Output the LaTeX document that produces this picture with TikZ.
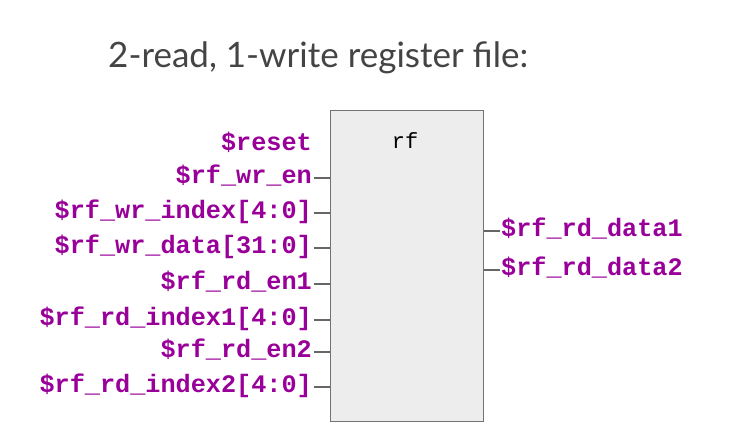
\documentclass[tikz,border=0pt]{standalone}
\usepackage{fontspec}
\setmainfont{Lato}
\setmonofont{Liberation Mono}
\usetikzlibrary{positioning}
\definecolor{sigpurple}{HTML}{990099}
\definecolor{titlegray}{HTML}{444444}
\tikzset{sig/.style={text=sigpurple,font=\fontsize{25.2}{28}\selectfont\ttfamily\bfseries,inner sep=0pt},
 pin/.style={draw=black!60,line width=1.3pt}}

\begin{document}
\begin{tikzpicture}[x=1pt,y=-1pt]
\useasboundingbox (0,0) rectangle (743,436);
\node[font=\fontsize{35}{40}\selectfont,text=titlegray,anchor=base west,inner sep=0pt] (title) at (108,67) {2-read, 1-write register file:};
\node[draw=black!55,fill=black!7,line width=1.3pt,minimum width=153pt,minimum height=311pt,anchor=north west,inner sep=0pt] (rf) at (330,110) {};
\node[font=\fontsize{22}{26}\selectfont\ttfamily,anchor=base] (rfname) at (405,148) {rf};
\node[sig,anchor=base east] (reset) at (312,150) {\$reset};
% inputs
\foreach \n/\y/\t in {wren/178/\$rf\_wr\_en,wridx/213/\$rf\_wr\_index[4:0],wrdata/248/\$rf\_wr\_data[31:0],
  rden1/284/\$rf\_rd\_en1,rdidx1/320/\$rf\_rd\_index1[4:0],rden2/352/\$rf\_rd\_en2,rdidx2/387/\$rf\_rd\_index2[4:0]}{
  \node[sig,anchor=base east] (\n) at (312,\y+5) {\t};
  \coordinate (\n-pin) at (rf.west |- 0,\y);
  \draw[pin] ([xshift=1.5pt]\n.east |- \n-pin) -- (\n-pin);}
% outputs
\foreach \n/\y/\t in {rddata1/231/\$rf\_rd\_data1,rddata2/270/\$rf\_rd\_data2}{
  \node[sig,anchor=base west] (\n) at (501,\y+5) {\t};
  \coordinate (\n-pin) at (rf.east |- 0,\y);
  \draw[pin] (\n-pin) -- ([xshift=-1.5pt]\n.west |- \n-pin);}
\end{tikzpicture}
\end{document}
